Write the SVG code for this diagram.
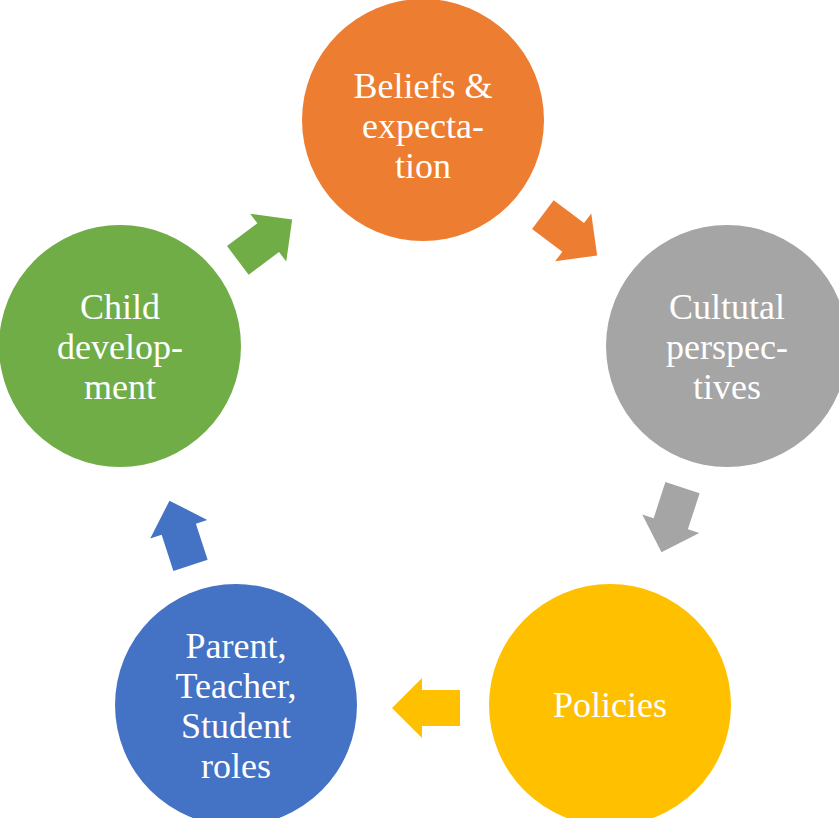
<svg xmlns="http://www.w3.org/2000/svg" width="839" height="818" viewBox="0 0 839 818">
<style>
text{font-family:"Liberation Serif","Times New Roman",serif;font-size:36px;fill:#fff;text-anchor:middle}
</style>
<defs><path id="arr" d="M-34,-18 H4 V-30 L34,0 L4,30 V18 H-34 Z"/></defs>
<rect width="839" height="818" fill="#fff"/>
<g id="connectors">
<use href="#arr" fill="#70ad47" transform="translate(265,240) rotate(-37)"/>
<use href="#arr" fill="#ed7d31" transform="translate(570,235) rotate(37)"/>
<use href="#arr" fill="#a5a5a5" transform="translate(672,520) rotate(108)"/>
<use href="#arr" fill="#ffc000" transform="translate(426,708) rotate(180)"/>
<use href="#arr" fill="#4472c4" transform="translate(180,533) rotate(-108)"/>
</g>
<g id="beliefs"><circle cx="423" cy="120" r="121" fill="#ed7d31"/><text x="423" y="98">Beliefs &amp;</text><text x="423" y="138">expecta-</text><text x="423" y="178">tion</text></g>
<g id="cultural"><circle cx="727" cy="346" r="121" fill="#a5a5a5"/><text x="727" y="319">Cultutal</text><text x="727" y="359">perspec-</text><text x="727" y="399">tives</text></g>
<g id="policies"><circle cx="610" cy="705" r="121" fill="#ffc000"/><text x="610" y="717">Policies</text></g>
<g id="roles"><circle cx="236" cy="705" r="121" fill="#4472c4"/><text x="236" y="658">Parent,</text><text x="236" y="698">Teacher,</text><text x="236" y="738">Student</text><text x="236" y="778">roles</text></g>
<g id="child"><circle cx="120" cy="346" r="121" fill="#70ad47"/><text x="120" y="319">Child</text><text x="120" y="359">develop-</text><text x="120" y="399">ment</text></g>
</svg>
